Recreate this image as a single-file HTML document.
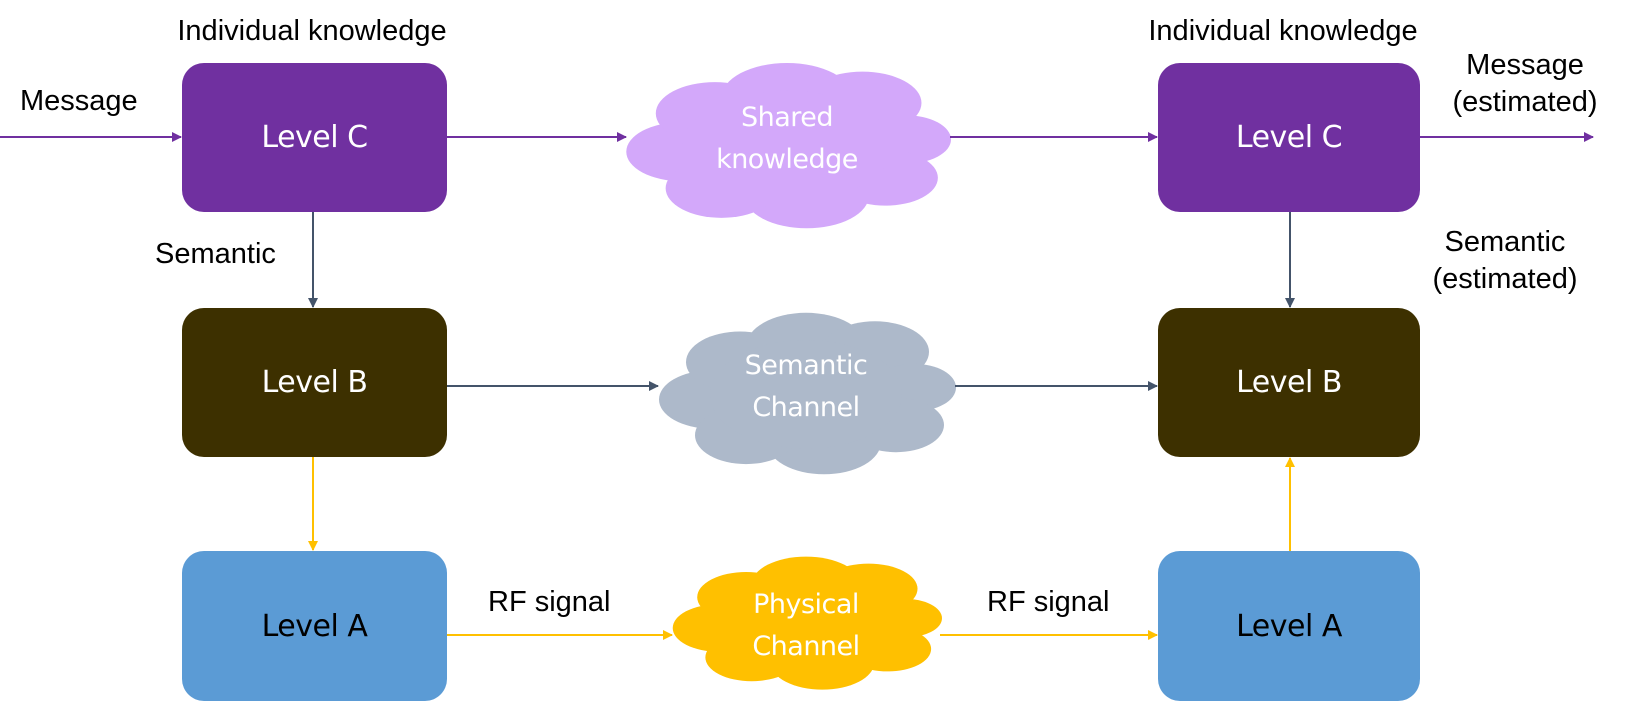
<!DOCTYPE html>
<html><head><meta charset="utf-8"><style>
body{margin:0;width:1629px;height:702px;background:#fff;overflow:hidden;position:relative;font-family:"Liberation Sans",Arial,sans-serif}
.box{position:absolute;border-radius:22px;color:#fff;display:flex;align-items:center;justify-content:center;font-size:30px;font-family:"DejaVu Sans","Liberation Sans",sans-serif;letter-spacing:-0.5px}
.lbl{position:absolute;font-size:29px;color:#000;text-align:center;line-height:37px;white-space:nowrap}
.ct{position:absolute;color:#fff;font-size:27px;text-align:center;line-height:42px;font-family:"DejaVu Sans","Liberation Sans",sans-serif;letter-spacing:-0.5px}
svg{position:absolute;left:0;top:0}
</style></head><body>
<svg width="1629" height="702">
<defs>
<symbol id="cl" viewBox="0 0 100 100" preserveAspectRatio="none">
<circle cx="18" cy="55" r="17"/><circle cx="28" cy="33" r="18"/><circle cx="50" cy="24" r="20"/><circle cx="73" cy="27" r="18"/><circle cx="86" cy="48" r="14"/><circle cx="80" cy="70" r="16"/><circle cx="56" cy="80" r="19"/><circle cx="30" cy="76" r="17"/><circle cx="50" cy="52" r="32"/>
</symbol>
<marker id="mp" markerWidth="10" markerHeight="10" refX="9" refY="5" orient="auto" markerUnits="userSpaceOnUse"><path d="M0,0 L10,5 L0,10z" fill="#7030A0"/></marker>
<marker id="mg" markerWidth="10" markerHeight="10" refX="9" refY="5" orient="auto" markerUnits="userSpaceOnUse"><path d="M0,0 L10,5 L0,10z" fill="#44546A"/></marker>
<marker id="my" markerWidth="10" markerHeight="10" refX="9" refY="5" orient="auto" markerUnits="userSpaceOnUse"><path d="M0,0 L10,5 L0,10z" fill="#FFC000"/></marker>
</defs>
<use href="#cl" x="623" y="56" width="328" height="174" fill="#D3A8FA"/>
<use href="#cl" x="656" y="306" width="300" height="170" fill="#ADB9CA"/>
<use href="#cl" x="670" y="551" width="272" height="140" fill="#FFC000"/>
<g stroke-width="2" fill="none">
<line x1="0" y1="137" x2="181" y2="137" stroke="#7030A0" marker-end="url(#mp)"/>
<line x1="447" y1="137" x2="626" y2="137" stroke="#7030A0" marker-end="url(#mp)"/>
<line x1="950" y1="137" x2="1157" y2="137" stroke="#7030A0" marker-end="url(#mp)"/>
<line x1="1420" y1="137" x2="1593" y2="137" stroke="#7030A0" marker-end="url(#mp)"/>
<line x1="313" y1="212" x2="313" y2="307" stroke="#44546A" marker-end="url(#mg)"/>
<line x1="1290" y1="212" x2="1290" y2="307" stroke="#44546A" marker-end="url(#mg)"/>
<line x1="447" y1="386" x2="658" y2="386" stroke="#44546A" marker-end="url(#mg)"/>
<line x1="955" y1="386" x2="1157" y2="386" stroke="#44546A" marker-end="url(#mg)"/>
<line x1="313" y1="457" x2="313" y2="550" stroke="#FFC000" marker-end="url(#my)"/>
<line x1="1290" y1="551" x2="1290" y2="458" stroke="#FFC000" marker-end="url(#my)"/>
<line x1="447" y1="635" x2="672" y2="635" stroke="#FFC000" marker-end="url(#my)"/>
<line x1="940" y1="635" x2="1157" y2="635" stroke="#FFC000" marker-end="url(#my)"/>
</g>
</svg>
<div class="box" style="left:182px;top:63px;width:265px;height:149px;background:#7030A0">Level C</div>
<div class="box" style="left:1158px;top:63px;width:262px;height:149px;background:#7030A0">Level C</div>
<div class="box" style="left:182px;top:308px;width:265px;height:149px;background:#3D3000">Level B</div>
<div class="box" style="left:1158px;top:308px;width:262px;height:149px;background:#3D3000">Level B</div>
<div class="box" style="left:182px;top:551px;width:265px;height:150px;background:#5B9BD5;color:#000">Level A</div>
<div class="box" style="left:1158px;top:551px;width:262px;height:150px;background:#5B9BD5;color:#000">Level A</div>
<div class="ct" style="left:623px;top:97px;width:328px">Shared<br>knowledge</div>
<div class="ct" style="left:656px;top:345px;width:300px;color:#fff">Semantic<br>Channel</div>
<div class="ct" style="left:670px;top:584px;width:272px">Physical<br>Channel</div>
<div class="lbl" style="left:162px;top:13px;width:300px">Individual knowledge</div>
<div class="lbl" style="left:1133px;top:13px;width:300px">Individual knowledge</div>
<div class="lbl" style="left:20px;top:83px">Message</div>
<div class="lbl" style="left:1435px;top:47px;width:180px">Message<br>(estimated)</div>
<div class="lbl" style="left:155px;top:236px">Semantic</div>
<div class="lbl" style="left:1415px;top:224px;width:180px">Semantic<br>(estimated)</div>
<div class="lbl" style="left:488px;top:584px">RF signal</div>
<div class="lbl" style="left:987px;top:584px">RF signal</div>
</body></html>
